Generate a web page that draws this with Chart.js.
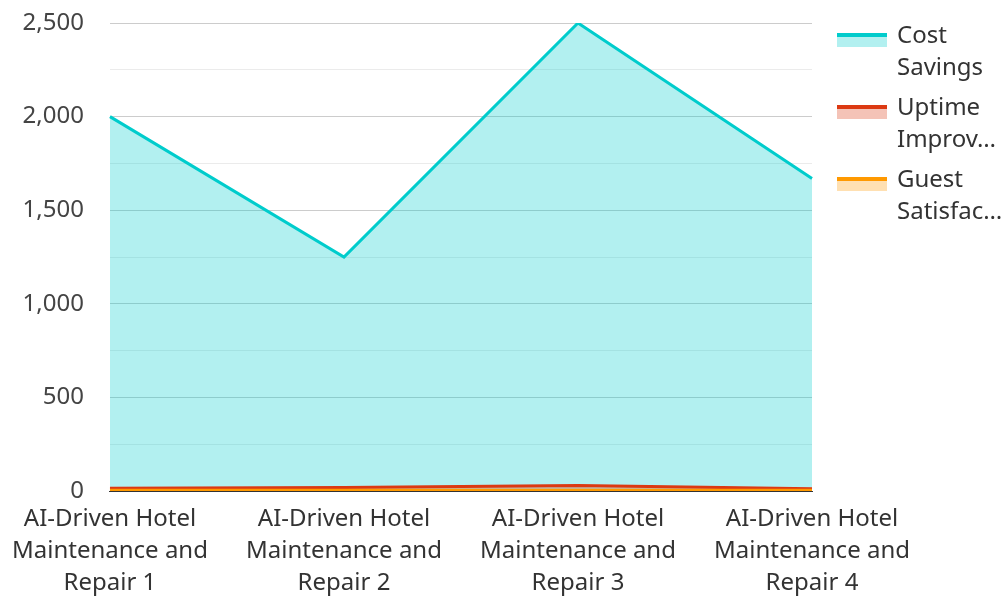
<!DOCTYPE html>
<html>
<head>
<meta charset="utf-8">
<script src="https://cdn.jsdelivr.net/npm/chart.js@4/dist/chart.umd.min.js"></script>
<style>
  html, body { margin: 0; padding: 0; background: #fff; }
  #wrap { width: 1007px; height: 597px; position: relative; }
</style>
</head>
<body>
<div id="wrap"><canvas id="chart"></canvas></div>
<script>
var categories = [
    "AI-Driven Hotel Maintenance and Repair 1",
    "AI-Driven Hotel Maintenance and Repair 2",
    "AI-Driven Hotel Maintenance and Repair 3",
    "AI-Driven Hotel Maintenance and Repair 4"
];
var cost_savings = [2000, 1250, 2500, 1670];
var uptime_improvement = [15, 19, 30, 12];
var guest_satisfaction = [4.5, 4.2, 4.8, 4.0];
var series_names = ["Cost Savings", "Uptime Improvement", "Guest Satisfaction"];
var series_colors = ["#00cccc", "#dc3912", "#ff9900"];

var FONT = "'Noto Sans', sans-serif";

function wrap_words(s, maxChars) {
    var words = s.split(" ");
    var lines = [];
    var cur = "";
    for (var i = 0; i < words.length; i++) {
        var t = cur ? cur + " " + words[i] : words[i];
        if (t.length > maxChars && cur) {
            lines.push(cur);
            cur = words[i];
        } else {
            cur = t;
        }
    }
    if (cur) lines.push(cur);
    return lines;
}

function fade(hex, a) {
    var r = parseInt(hex.substr(1, 2), 16);
    var g = parseInt(hex.substr(3, 2), 16);
    var b = parseInt(hex.substr(5, 2), 16);
    return "rgba(" + r + "," + g + "," + b + "," + a + ")";
}

// legend on the right: swatch with a thick top line, text wrapped to two lines
var sideLegend = {
    id: 'sideLegend',
    afterDraw: function (chart) {
        var ctx = chart.ctx;
        ctx.save();
        ctx.font = "24px " + FONT;
        ctx.textBaseline = "middle";
        var maxW = 108;
        for (var i = 0; i < series_names.length; i++) {
            var y = 36 + i * 72;
            ctx.fillStyle = fade(series_colors[i], 0.3);
            ctx.fillRect(837, y - 2, 50, 13);
            ctx.fillStyle = series_colors[i];
            ctx.fillRect(837, y - 3, 50, 4);
            // wrap
            var words = series_names[i].split(" ");
            var lines = [];
            var cur = "";
            for (var w = 0; w < words.length; w++) {
                var t = cur ? cur + " " + words[w] : words[w];
                if (ctx.measureText(t).width > maxW && cur) {
                    lines.push(cur);
                    cur = words[w];
                } else {
                    cur = t;
                }
            }
            lines.push(cur);
            if (lines.length > 2) {
                lines = [lines[0], lines.slice(1).join(" ")];
            }
            for (var k = 0; k < lines.length; k++) {
                var txt = lines[k];
                if (ctx.measureText(txt).width > maxW) {
                    while (txt.length > 1 && ctx.measureText(txt + "…").width > maxW) {
                        txt = txt.slice(0, -1);
                    }
                    txt = txt + "…";
                }
                ctx.fillStyle = "#333";
                ctx.fillText(txt, 897, y + k * 32);
            }
        }
        ctx.restore();
    }
};

var all_data = [cost_savings, uptime_improvement, guest_satisfaction];
var datasets = [];
for (var i = 0; i < all_data.length; i++) {
    datasets.push({
        label: series_names[i],
        data: all_data[i],
        borderColor: series_colors[i],
        backgroundColor: fade(series_colors[i], 0.3),
        borderWidth: 3,
        fill: 'origin',
        tension: 0,
        pointRadius: 0,
        order: all_data.length - 1 - i
    });
}

var chart = new Chart(document.getElementById("chart"), {
    type: 'line',
    data: {
        labels: categories.map(function (c) { return wrap_words(c, 16); }),
        datasets: datasets
    },
    plugins: [sideLegend],
    options: {
        responsive: true,
        maintainAspectRatio: false,
        animation: false,
        layout: { padding: { left: -4, right: 195, top: 23, bottom: -14 } },
        plugins: {
            legend: { display: false },
            tooltip: { enabled: false }
        },
        scales: {
            x: {
                offset: false,
                grid: { display: false, drawTicks: false },
                border: { display: true, color: '#333', width: 1 },
                ticks: {
                    color: '#333',
                    font: { family: FONT, size: 24, lineHeight: 1.333 },
                    padding: 12,
                    maxRotation: 0,
                    autoSkip: false
                }
            },
            y: {
                min: 0,
                max: 2500,
                border: { display: false },
                afterFit: function (scale) {
                    scale.paddingTop = 0;
                },
                grid: {
                    drawTicks: false,
                    color: function (c) {
                        if (c.tick.value === 0) return '#333';
                        return c.tick.value % 500 === 0 ? '#cccccc' : '#ebebeb';
                    }
                },
                ticks: {
                    stepSize: 250,
                    color: '#444',
                    font: { family: FONT, size: 24 },
                    padding: 26,
                    callback: function (v) {
                        return v % 500 === 0 ? v.toLocaleString('en-US') : '';
                    }
                }
            }
        }
    }
});
</script>
</body>
</html>
